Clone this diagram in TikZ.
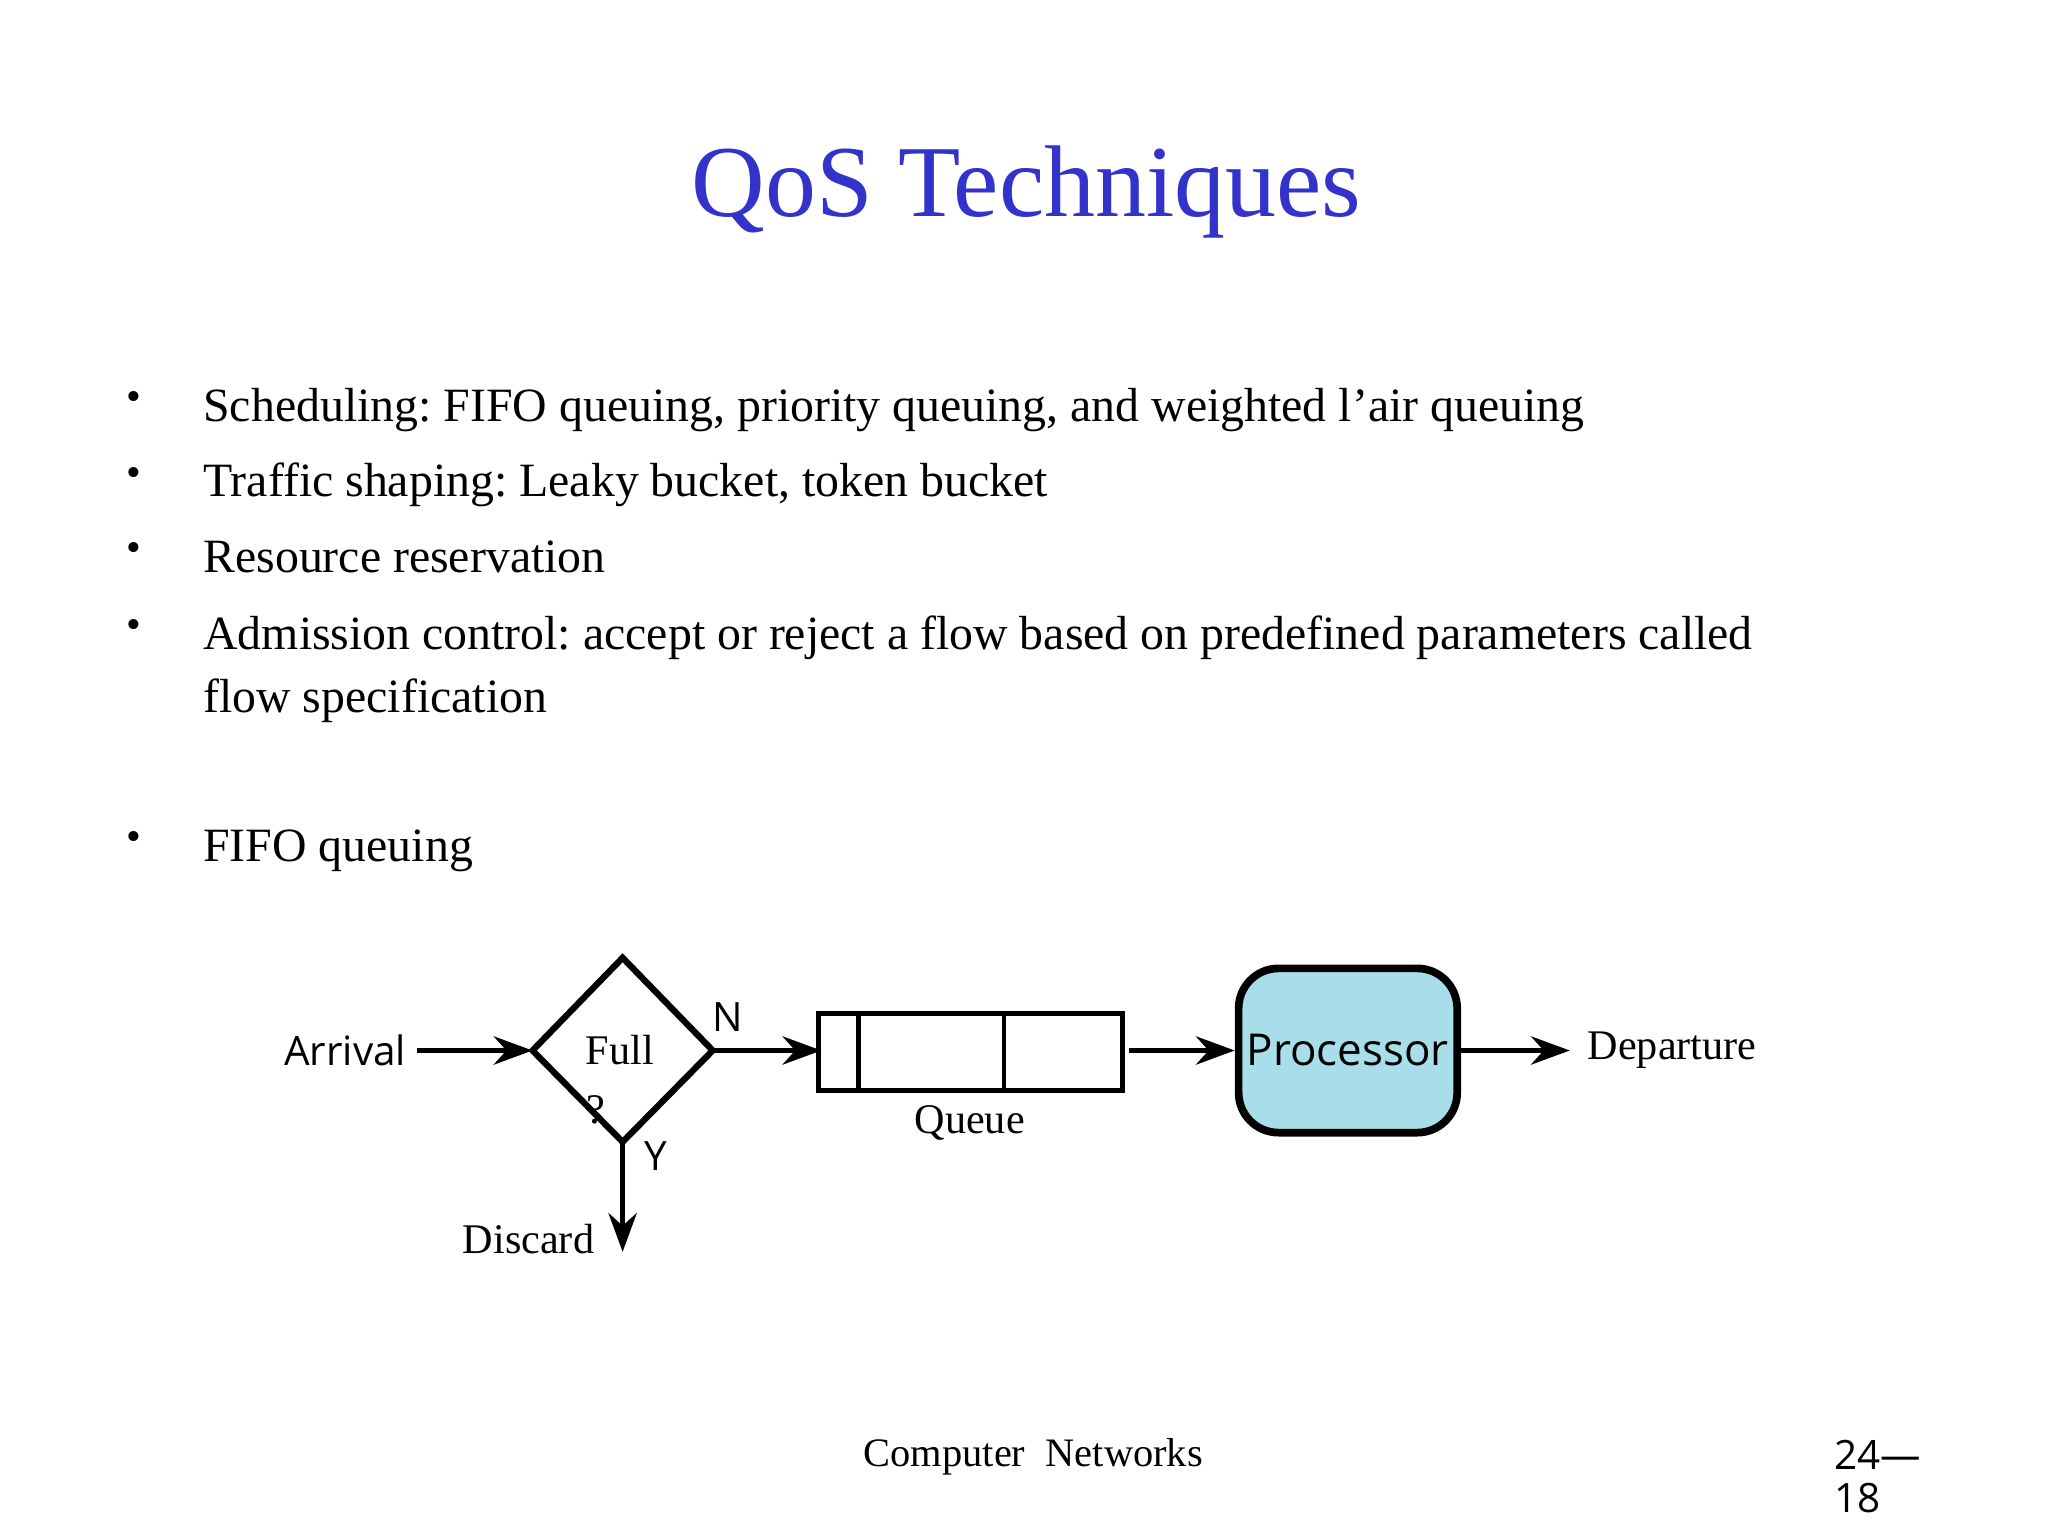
\documentclass[tikz,border=0pt]{standalone}
\usepackage{fontspec}
\setmainfont{Liberation Serif}
\newfontfamily\sansf{Open Sans}
\usetikzlibrary{arrows.meta}
\begin{document}
\begin{tikzpicture}[x=0.013247cm,y=-0.013247cm,
  arr/.style={line width=1.6pt,-{Stealth[length=11pt,width=8pt]}},
  bul/.style={anchor=base west,font=\fontsize{13.6}{16}\selectfont,inner sep=0},
  dot/.style={anchor=base,font=\fontsize{12}{14}\selectfont,inner sep=0},
  lab/.style={font=\fontsize{12}{14}\selectfont,inner sep=0},
  slab/.style={font=\sansf\fontsize{11.5}{14}\selectfont,inner sep=0}]
\useasboundingbox (0,0) rectangle (1546,1160);
\definecolor{ttl}{RGB}{51,51,204}
\definecolor{proc}{RGB}{168,221,234}
\node[font=\fontsize{29}{32}\selectfont,text=ttl] (title) at (775,145) {QoS Techniques};
\foreach \y/\t [count=\i] in {318/{Scheduling:\ FIFO queuing, priority queuing, and weighted l’air queuing},375/{Traffic shaping:\ Leaky bucket, token bucket},432/{Resource reservation},490/{Admission control:\ accept or reject a flow based on predefined parameters called},650/{FIFO queuing}}{
  \node[bul] (b\i) at (153,\y) {\t};
}
\foreach \y [count=\i] in {310,367,424,482,642}{\node[dot] (d\i) at (101,\y) {•};}
\node[bul] (b6) at (153,538) {flow specification};
% diagram
\node[slab,anchor=east] (arr) at (307,793) {Arrival};
\coordinate (dt) at (470,723); \coordinate (dl) at (402,793);
\coordinate (dr) at (538,793); \coordinate (db) at (470,862);
\coordinate (astart) at (315,793);
\draw[line width=1.8pt,line join=miter] (dt)--(dr)--(db)--(dl)--cycle;
\node[lab] (full) at (468,793) {Full};
\node[lab] (q) at (450,838) {?};
\node[slab] (n) at (549,768) {N};
\node[slab] (yy) at (495,873) {Y};
\draw[arr] (astart) -- (dl);
\draw[line width=1.4pt] (618,765) rectangle (847,823);
\draw[line width=1.2pt] (648,765)--(648,823) (758,765)--(758,823);
\coordinate (qin) at (620,793); \coordinate (qout) at (852,793);
\draw[arr] (dr) -- (qin);
\node[lab] (ql) at (732,848) {Queue};
\node[draw,line width=2.2pt,fill=proc,rounded corners=0.4cm,minimum width=165*0.013247cm,minimum height=124*0.013247cm,inner sep=0,font=\sansf\fontsize{12.5}{15}\selectfont] (proc) at (1017.5,793) {Processor};
\draw[arr] (qout) -- (proc.west);
\node[lab,anchor=west] (dep) at (1198,793) {Departure};
\coordinate (pend) at (1185,793);
\draw[arr] (proc.east) -- (pend);
\coordinate (dend) at (470,945);
\draw[arr] (db) -- (dend);
\node[lab,anchor=east] (disc) at (449,935) {Discard};
% footer
\node[font=\fontsize{11.5}{14}\selectfont] (foot) at (780,1100) {Computer\ \ Networks};
\node[font=\sansf\fontsize{11.5}{14}\selectfont,anchor=west,inner sep=0] (p1) at (1384,1098) {24—};
\node[font=\sansf\fontsize{11.5}{14}\selectfont,anchor=west,inner sep=0] (p2) at (1384,1131) {18};
\end{tikzpicture}
\end{document}
